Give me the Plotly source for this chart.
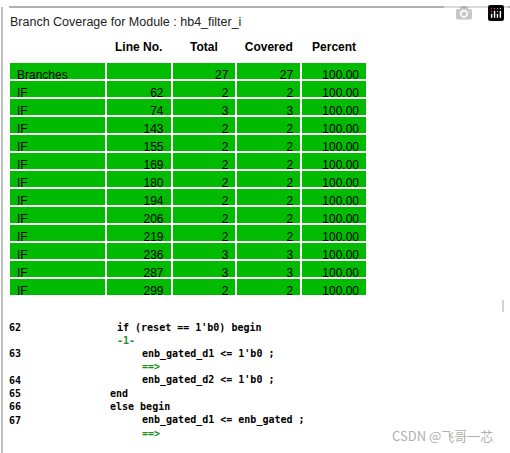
import plotly.graph_objects as go

W, H = 510, 453

# table data
header = ["", "Line\u00a0No.", "Total", "Covered", "Percent"]
kinds = ["Branches"] + ["IF"] * 12
line_no = [""] + [62, 74, 143, 155, 169, 180, 194, 206, 219, 236, 287, 299]
total = [27, 2, 3, 2, 2, 2, 2, 2, 2, 2, 3, 3, 2]
covered = [27, 2, 3, 2, 2, 2, 2, 2, 2, 2, 3, 3, 2]
percent = ["100.00"] * 13

# source listing below the table
code_nums = ["62", "", "63", "", "64", "65", "66", "67", ""]
code_text = ["if (reset == 1'b0) begin", "-1-", "enb_gated_d1 <= 1'b0 ;", "==>",
             "enb_gated_d2 <= 1'b0 ;", "end", "else begin",
             "enb_gated_d1 <= enb_gated ;", "==>"]
code_x = [115, 115, 140, 140, 140, 108, 108, 140, 140]
code_green = [False, True, False, True, False, False, False, False, True]

GREEN = "#00bb00"

fig = go.Figure(go.Table(
    domain=dict(x=[9 / W, 368 / W], y=[1 - 300 / H, 1 - 32 / H]),
    columnwidth=[97, 66, 65, 65, 66],
    header=dict(values=["<b>%s</b>" % h for h in header], height=17,
                fill_color="white", line=dict(color="white", width=2),
                align="center", font=dict(family="Liberation Sans", size=12, color="black")),
    cells=dict(values=[kinds, line_no, total, covered, percent], height=18,
               fill_color=GREEN, line=dict(color="white", width=2),
               align=["left", "right", "right", "right", "right"],
               font=dict(family="Liberation Sans", size=12, color="black")),
))

fig.add_annotation(x=8 / W, y=1 - 22 / H, xref="paper", yref="paper", xanchor="left",
                   yanchor="middle", showarrow=False, text="Branch Coverage for Module : hb4_filter_i",
                   font=dict(family="Liberation Sans", size=12.5, color="#222"))

for i, (n, t, cx, g) in enumerate(zip(code_nums, code_text, code_x, code_green)):
    y = 1 - (327 + i * 13.3) / H
    mono = dict(family="DejaVu Sans Mono", size=10, color="#1a8f1a" if g else "black")
    if n:
        fig.add_annotation(x=7 / W, y=y, xref="paper", yref="paper", xanchor="left",
                           yanchor="middle", showarrow=False, text="<b>%s</b>" % n, font=mono)
    fig.add_annotation(x=cx / W, y=y, xref="paper", yref="paper", xanchor="left",
                       yanchor="middle", showarrow=False, text="<b>%s</b>" % t, font=mono)

fig.add_annotation(x=495 / W, y=1 - 435 / H, xref="paper", yref="paper", xanchor="right",
                   yanchor="middle", showarrow=False, text="CSDN @飞哥一芯",
                   font=dict(family="Noto Sans CJK SC", size=13, color="#b0b0b0"))

fig.add_shape(type="line", xref="paper", yref="paper", x0=9 / W, x1=1, y0=1 - 7 / H, y1=1 - 7 / H,
              line=dict(color="#999", width=1.5))
fig.add_shape(type="line", xref="paper", yref="paper", x0=2 / W, x1=2 / W, y0=0, y1=1 - 7 / H,
              line=dict(color="#aaa", width=1.5))
fig.add_shape(type="line", xref="paper", yref="paper", x0=503 / W, x1=503 / W, y0=1 - 300 / H, y1=1 - 312 / H,
              line=dict(color="#aaa", width=1))

fig.update_layout(width=W, height=H, margin=dict(l=0, r=0, t=0, b=0),
                  paper_bgcolor="white", plot_bgcolor="white")
fig.write_html("out.html", post_script="document.body.style.margin='0';")
